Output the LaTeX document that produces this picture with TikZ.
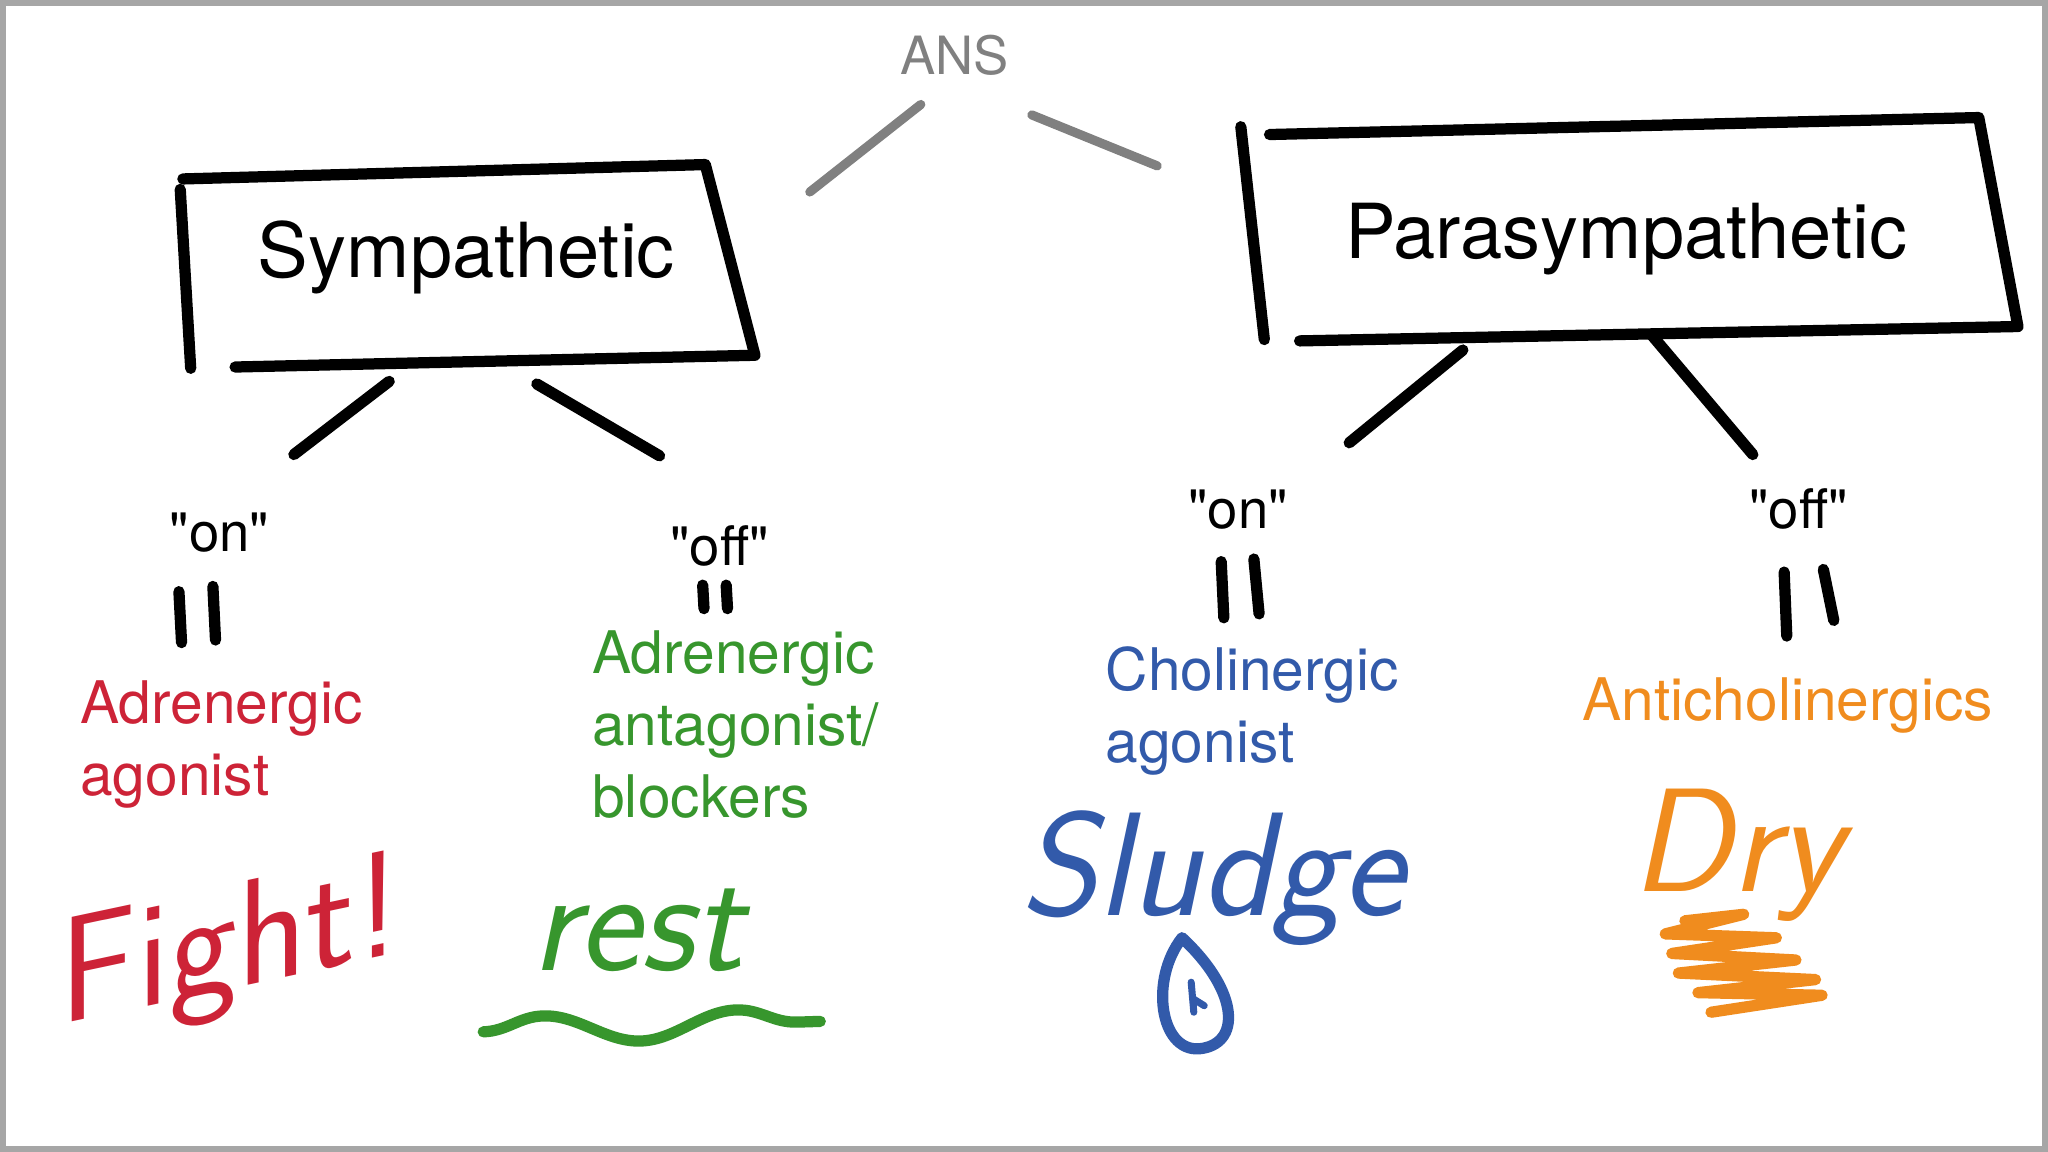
\documentclass[tikz,border=0pt]{standalone}
\usepackage{fontspec}
\setmainfont{TeX Gyre Heros}
\newfontfamily\plainq{TeX Gyre Heros}
\usetikzlibrary{decorations.pathmorphing}
\definecolor{cred}{RGB}{205,35,55}
\definecolor{cgreen}{RGB}{55,150,45}
\definecolor{cblue}{RGB}{50,90,170}
\definecolor{corange}{RGB}{240,140,30}
\definecolor{cgray}{RGB}{128,128,128}
\tikzset{
 pen/.style={line width=3.2pt,line cap=round,line join=round},
 big/.style={font=\fontsize{21.6}{26}\selectfont},
 mid/.style={font=\fontsize{16.7}{20.5}\selectfont,align=left,anchor=west},
 hand/.style={font=\fontsize{42}{46}\selectfont\sffamily\itshape},
}
\begin{document}
\begin{tikzpicture}[x=0.01306cm,y=-0.01306cm]
\useasboundingbox (0,0) rectangle (1568,882);
\fill[white] (0,0) rectangle (1568,882);
\draw[line width=2pt,cgray!70] (2,2) rectangle (1566,880);
% ANS
\node[text=cgray,font=\fontsize{15}{18}\selectfont] (ans) at (731,42) {ANS};
\coordinate (g1a) at (620,147); \coordinate (g1b) at (705,80);
\coordinate (g2a) at (790,88); \coordinate (g2b) at (886,127);
\draw[pen,cgray,line width=2.6pt] (g1a)--(g1b); \draw[pen,cgray,line width=2.6pt] (g2a)--(g2b);
% Sympathetic box
\draw[pen] (140,137)--(540,126)--(578,272)--(180,281);
\draw[pen] (138,145)--(146,282);
\node[big] (sym) at (357,197) {Sympathetic};
% Parasympathetic box
\draw[pen] (972,103)--(1515,90)--(1545,250)--(995,261);
\draw[pen] (950,97)--(968,260);
\node[big] (para) at (1245,183) {Parasympathetic};
% branches
\draw[pen] (225,348)--(298,292); \draw[pen] (411,294)--(505,349);
\draw[pen] (1033,339)--(1120,268); \draw[pen] (1265,257)--(1342,348);
% on/off
\tikzset{qq/.style={font=\fontsize{15.5}{18}\plainq}}
\node[qq] (on1) at (168,408) {"on"};
\node[qq] (off1) at (551,418) {"off"};
\node[qq] (on2) at (948,390) {"on"};
\node[qq] (off2) at (1377,390) {"off"};
\draw[pen] (137,453)--(139,492); \draw[pen] (163,449)--(165,490);
\draw[pen] (538,448)--(539,466); \draw[pen] (556,448)--(557,466);
\draw[pen] (935,430)--(937,473); \draw[pen] (960,428)--(964,470);
\draw[pen] (1366,438)--(1368,487); \draw[pen] (1396,436)--(1404,475);
% labels
\node[mid,text=cred] (t1) at (52,570) {Adrenergic\\agonist};
\node[mid,text=cgreen] (t2) at (444,555) {Adrenergic\\antagonist/\\blockers};
\node[mid,text=cblue] (t3) at (837,544) {Cholinergic\\agonist};
\node[mid,text=corange] (t4) at (1202,540) {Anticholinergics};
% handwriting
\node[hand,text=cred,rotate=12] (h1) at (170,730) {Fight!};
\node[hand,text=cgreen] (h2) at (488,712) {rest};
\draw[pen,cgreen,decorate,decoration={snake,amplitude=4,segment length=55}] (370,790)--(628,782);
\node[hand,text=cblue] (h3) at (928,672) {Sludge};
\draw[pen,cblue] (905,718) .. controls (880,750) and (888,805) .. (918,803) .. controls (950,800) and (950,760) .. (905,718);
\draw[pen,cblue,line width=2pt] (912,752)--(914,775) (914,765)--(922,770);
\node[hand,text=corange] (h4) at (1330,655) {Dry};
\draw[pen,corange] (1290,705)--(1335,700)--(1275,715)--(1360,718)--(1280,730)--(1375,735)--(1285,745)--(1390,750)--(1300,760)--(1395,762)--(1310,775);
\end{tikzpicture}
\end{document}
